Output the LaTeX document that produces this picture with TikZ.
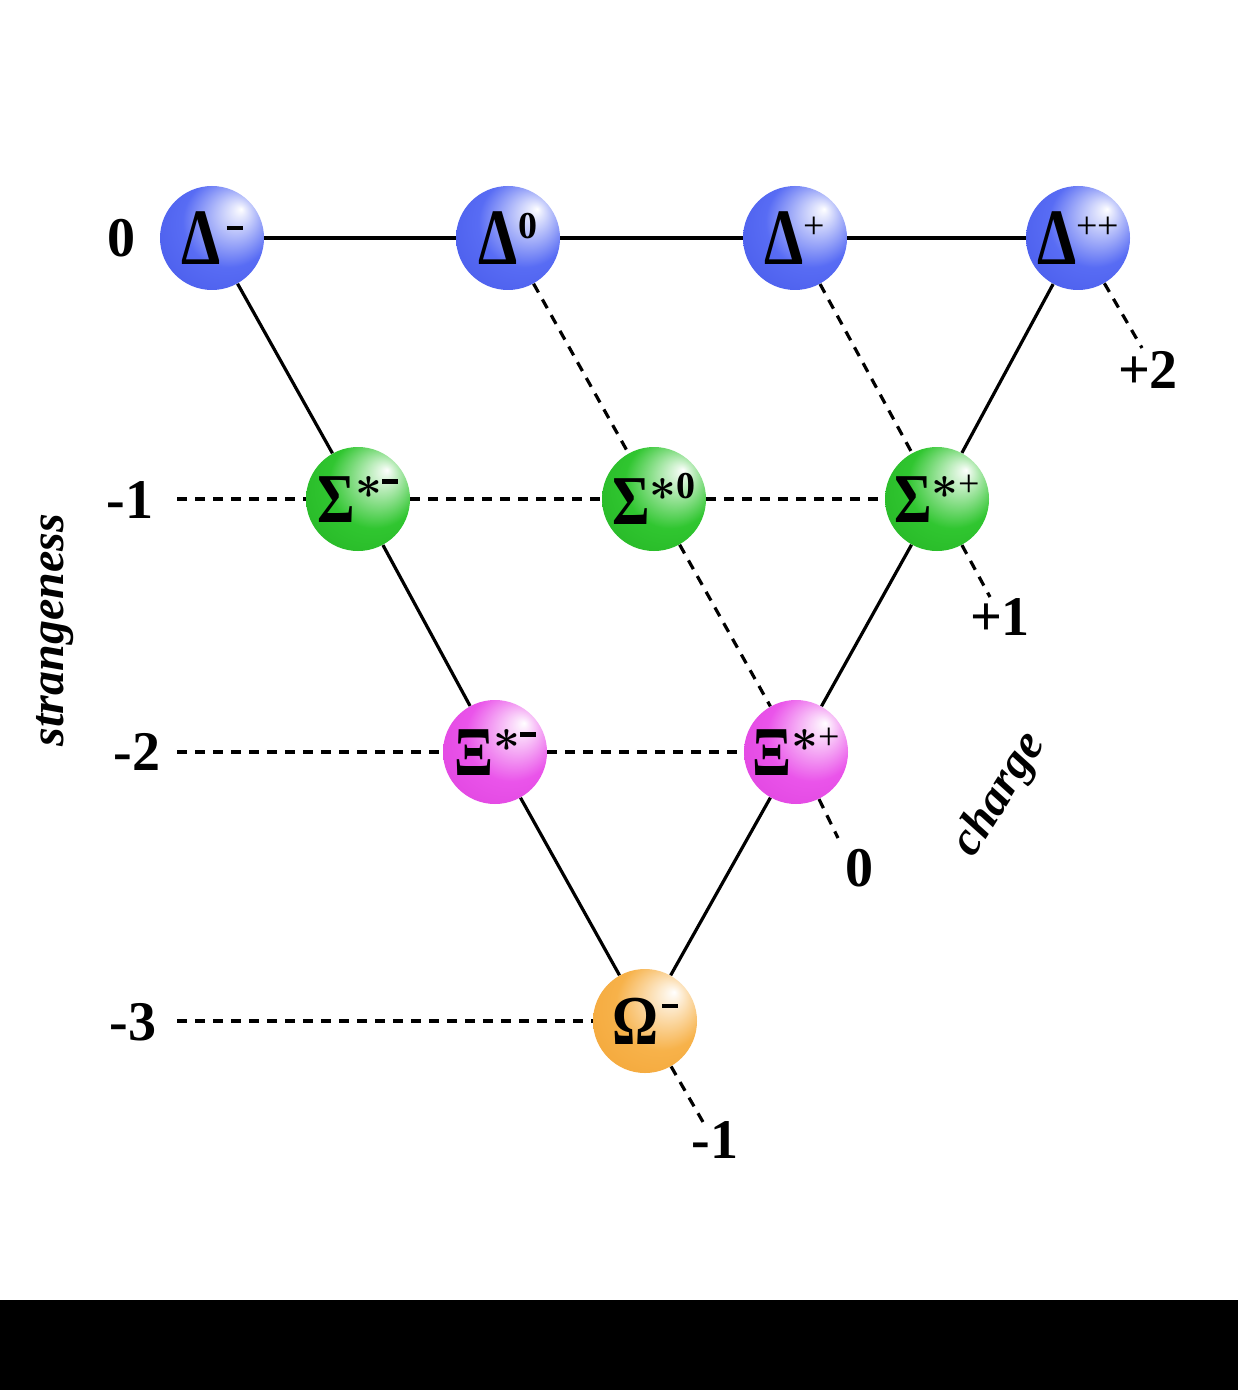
\documentclass[tikz,border=0pt]{standalone}
\usepackage{fontspec}
\setmainfont{Liberation Serif}
\usepackage{graphicx}
\definecolor{blc}{RGB}{88,108,244}
\definecolor{bld}{RGB}{62,80,228}
\definecolor{grc}{RGB}{48,198,48}
\definecolor{grd}{RGB}{30,170,30}
\definecolor{mgc}{RGB}{234,84,234}
\definecolor{mgd}{RGB}{216,56,216}
\definecolor{orc}{RGB}{247,178,74}
\definecolor{ord}{RGB}{241,158,44}
\pgfdeclareradialshading{bball}{\pgfpoint{14bp}{14bp}}{color(0bp)=(white); color(3bp)=(white!85!blc); color(22bp)=(blc); color(50bp)=(bld)}
\pgfdeclareradialshading{gball}{\pgfpoint{14bp}{14bp}}{color(0bp)=(white); color(3bp)=(white!85!grc); color(22bp)=(grc); color(50bp)=(grd)}
\pgfdeclareradialshading{mball}{\pgfpoint{14bp}{14bp}}{color(0bp)=(white); color(3bp)=(white!85!mgc); color(22bp)=(mgc); color(50bp)=(mgd)}
\pgfdeclareradialshading{oball}{\pgfpoint{14bp}{14bp}}{color(0bp)=(white); color(3bp)=(white!85!orc); color(22bp)=(orc); color(50bp)=(ord)}
\newcommand{\dbase}[1]{\scalebox{0.78}[1]{\fontsize{40}{40}\selectfont\bfseries #1}}
\newcommand{\gbase}[1]{\scalebox{0.82}[1]{\fontsize{35}{35}\selectfont\bfseries #1}}
\newcommand{\supx}[1]{\raisebox{13pt}{\fontsize{19}{19}\selectfont #1}}
\newcommand{\mns}[1]{\rule[#1]{8pt}{2.3pt}}
\newcommand{\str}{\raisebox{-1pt}{\scalebox{1.35}{\boldmath$\ast$}}}
\begin{document}
\begin{tikzpicture}[x=0.5pt,y=-0.5pt,
  ball/.style={circle, minimum size=52pt, inner sep=0pt},
  bluebal/.style={ball, shading=bball},
  greenbal/.style={ball, shading=gball},
  magbal/.style={ball, shading=mball},
  orbal/.style={ball, shading=oball},
  solidln/.style={line width=1.6pt},
  dashln/.style={line width=1.6pt, dash pattern=on 5pt off 4pt},
  lbl/.style={font=\fontsize{28}{28}\selectfont\bfseries},
  axl/.style={font=\fontsize{24}{24}\selectfont\bfseries\itshape}]
\useasboundingbox (0,0) rectangle (1238,1390);
\fill[white] (0,0) rectangle (1238,1300);
\fill[black] (0,1300) rectangle (1238,1390);

% particles
\node[bluebal] (dm) at (212,238) {\dbase{Δ}\hspace{3pt}\mns{17pt}};
\node[bluebal] (d0) at (508,238) {\dbase{Δ}\supx{\bfseries 0}};
\node[bluebal] (dp) at (795,238) {\dbase{Δ}\supx{+}};
\node[bluebal] (dpp) at (1078,238) {\dbase{Δ}\supx{++}};
\node[greenbal] (sm) at (358,499) {\gbase{Σ}\supx{\str}\mns{19pt}};
\node[greenbal] (s0) at (654,499) {\gbase{Σ}\supx{\str\bfseries 0}};
\node[greenbal] (sp) at (937,499) {\gbase{Σ}\supx{\str+}};
\node[magbal] (xm) at (495,752) {\gbase{Ξ}\supx{\str}\mns{19pt}};
\node[magbal] (xp) at (796,752) {\gbase{Ξ}\supx{\str+}};
\node[orbal] (om) at (645,1021) {\gbase{Ω}\hspace{2pt}\mns{18pt}};

% free ends
\coordinate (s1) at (177,499);
\coordinate (s2) at (177,752);
\coordinate (s3) at (177,1021);
\coordinate (c2) at (1142,348);
\coordinate (c1) at (990,597);
\coordinate (c0) at (838,838);
\coordinate (cm) at (703,1122);

% solid edges
\draw[solidln] (dm) -- (d0);
\draw[solidln] (d0) -- (dp);
\draw[solidln] (dp) -- (dpp);
\draw[solidln] (dm) -- (sm);
\draw[solidln] (sm) -- (xm);
\draw[solidln] (xm) -- (om);
\draw[solidln] (dpp) -- (sp);
\draw[solidln] (sp) -- (xp);
\draw[solidln] (xp) -- (om);

% dashed strangeness lines
\draw[dashln] (s1) -- (sm);
\draw[dashln] (sm) -- (s0);
\draw[dashln] (s0) -- (sp);
\draw[dashln] (s2) -- (xm);
\draw[dashln] (xm) -- (xp);
\draw[dashln] (s3) -- (om);

% dashed charge lines
\draw[dashln] (d0) -- (s0);
\draw[dashln] (s0) -- (xp);
\draw[dashln] (xp) -- (c0);
\draw[dashln] (dp) -- (sp);
\draw[dashln] (sp) -- (c1);
\draw[dashln] (dpp) -- (c2);
\draw[dashln] (om) -- (cm);

% labels
\node[lbl] (l0) at (121,238) {0};
\node[lbl] (l1) at (130,500) {-1};
\node[lbl] (l2) at (137,752) {-2};
\node[lbl] (l3) at (133,1022) {-3};
\node[lbl] (r2) at (1148,370) {+2};
\node[lbl] (r1) at (1000,617) {+1};
\node[lbl] (r0) at (859,868) {0};
\node[lbl] (rm) at (715,1140) {-1};
\node[axl, rotate=90] (strg) at (55,630) {strangeness};
\node[axl, rotate=58] (chg) at (1000,795) {charge};
\end{tikzpicture}
\end{document}
